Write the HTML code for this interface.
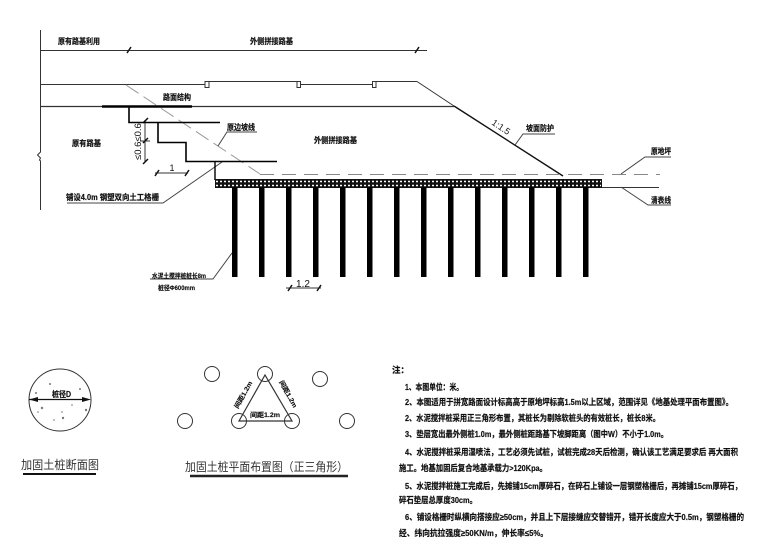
<!DOCTYPE html>
<html><head><meta charset="utf-8"><style>
html,body{margin:0;padding:0;background:#fff;width:760px;height:550px;overflow:hidden}
svg{display:block;filter:blur(.3px)}
text{font-family:"Liberation Sans","Noto Sans CJK SC",sans-serif;fill:#111}
.b{font-weight:700;font-size:8px;stroke:#111;stroke-width:.2px}
.s{font-weight:700;font-size:6.5px;stroke:#111;stroke-width:.15px}
.n{font-weight:700;font-size:8.5px;fill:#111;stroke:#111;stroke-width:.2px}
.t{font-size:12px;fill:#333}
</style></head><body>
<svg width="760" height="550" viewBox="0 0 760 550" xmlns="http://www.w3.org/2000/svg">
<g fill="none" stroke="#333" stroke-width="1">
<path d="M40.5 30V152l-3 3 3 3-1 2 1 1V210"/>
<path d="M41 50.5H427"/>
<path d="M41 84.5H205M209 81.5H297M300.5 84.5H372M376 81.5H417"/>
<rect x="205" y="81.5" width="4" height="6"/>
<rect x="297" y="81.5" width="3.5" height="6"/>
<rect x="372.5" y="81.5" width="3.5" height="6"/>
<path d="M41 106.5H454" stroke-width="1.2"/>
<path d="M417 81.5L454 106" stroke="#333"/>
<path d="M454 106L563 176" stroke="#111" stroke-width="1.4"/>
<path d="M126 85L260 174" stroke="#999" stroke-dasharray="15 6"/>
<path d="M260 174.5H660" stroke="#888" stroke-dasharray="14 8"/>
<path d="M602 187.5H659"/>
<path d="M222 162L163 203H67" stroke="#444"/>
<path d="M218 146L227 132H257" stroke="#444"/>
<path d="M515 145L523 134H555" stroke="#444"/>
<path d="M621 174L645 157H671" stroke="#444"/>
<path d="M621 187L648 205H671" stroke="#444"/>
<path d="M232 253L213 279H150" stroke="#444"/>
<path d="M145 120V162M140 141H150"/>
<path d="M155 173H188"/>
<path d="M286 288H321"/>
</g>
<g stroke="#111" stroke-width="1.5" fill="none">
<path d="M127 53l4-6M415 53l4-6M143 123l5-5M143 143l5-5M143 164l5-5M155 176l4-6M185 176l4-6M288 291l4-6M317 291l4-6"/>
</g>
<g fill="none" stroke="#000">
<path d="M102 106.5H192" stroke-width="2.4"/>
<path d="M129 106V122.5H220" stroke-width="1.6"/>
<path d="M158 122V142.5H186V161.5H277" stroke-width="1.6"/>
<path d="M215 161V180" stroke-width="1.4"/>
</g>
<rect x="215" y="179" width="387" height="9" fill="#111"/>
<path d="M216 181.5H601M216 185.5H601" stroke="#fff" stroke-width="1.6" stroke-dasharray="2 2" fill="none"/>
<g fill="#000">
<rect x="232" y="187" width="5.5" height="90"/><rect x="259" y="187" width="5.5" height="90"/><rect x="286" y="187" width="5.5" height="90"/><rect x="313" y="187" width="5.5" height="90"/><rect x="340" y="187" width="5.5" height="90"/><rect x="367" y="187" width="5.5" height="90"/><rect x="394" y="187" width="5.5" height="90"/><rect x="421" y="187" width="5.5" height="90"/><rect x="448" y="187" width="5.5" height="90"/><rect x="475" y="187" width="5.5" height="90"/><rect x="502" y="187" width="5.5" height="90"/><rect x="529" y="187" width="5.5" height="90"/><rect x="556" y="187" width="5.5" height="90"/><rect x="583" y="187" width="5.5" height="90"/>
</g>

<text class="b" x="58" y="44" textLength="42" lengthAdjust="spacingAndGlyphs">原有路基利用</text>
<text class="b" x="250" y="44" textLength="43" lengthAdjust="spacingAndGlyphs">外侧拼接路基</text>
<text class="b" x="163" y="100" textLength="28" lengthAdjust="spacingAndGlyphs">路面结构</text>
<text class="b" x="72" y="146" textLength="29" lengthAdjust="spacingAndGlyphs">原有路基</text>
<text class="b" x="227" y="130" textLength="28" lengthAdjust="spacingAndGlyphs">原边坡线</text>
<text class="b" x="314" y="143" textLength="43" lengthAdjust="spacingAndGlyphs">外侧拼接路基</text>
<text class="b" x="526" y="131" textLength="28" lengthAdjust="spacingAndGlyphs">坡面防护</text>
<text class="b" x="651" y="154" textLength="20" lengthAdjust="spacingAndGlyphs">原地坪</text>
<text class="b" x="651" y="203" textLength="20" lengthAdjust="spacingAndGlyphs">清表线</text>
<text class="b" x="66" y="200" textLength="93" lengthAdjust="spacingAndGlyphs">铺设4.0m 钢塑双向土工格栅</text>
<text class="s" x="152" y="278" textLength="54" lengthAdjust="spacingAndGlyphs">水泥土搅拌桩桩长8m</text>
<text class="s" x="158" y="290" textLength="37" lengthAdjust="spacingAndGlyphs">桩径Φ600mm</text>
<text x="172" y="171" font-size="9" fill="#222" text-anchor="middle">1</text>
<text x="303" y="287" font-size="10" fill="#222" text-anchor="middle">1.2</text>
<text x="0" y="0" font-size="9.5" fill="#222" transform="translate(141,160) rotate(-90)">≤0.6≤0.6</text>
<text x="0" y="0" font-size="9" fill="#222" transform="translate(491,124) rotate(34)">1:1.5</text>

<circle cx="60" cy="400" r="31" fill="#fff" stroke="#333" stroke-width="1"/>
<g fill="#777">
<circle cx="50" cy="384" r="1"/><circle cx="36" cy="393" r="1"/><circle cx="42" cy="408" r="1.2"/><circle cx="62" cy="412" r=".8"/><circle cx="63" cy="418" r="1.2"/><circle cx="80" cy="389" r="1"/><circle cx="86" cy="410" r="1.2"/><circle cx="54" cy="420" r=".8"/><circle cx="72" cy="405" r=".8"/><circle cx="38" cy="412" r=".8"/>
</g>
<path d="M29 399.5H88" stroke="#111" stroke-width="1.2"/>
<path d="M29 399.5l9-2.5v5zM91 399.5l-9-2.5v5z" fill="#111"/>
<text class="b" x="52" y="397" textLength="19" lengthAdjust="spacingAndGlyphs">桩径D</text>

<g fill="none" stroke="#333" stroke-width="1">
<circle cx="212" cy="374" r="7.5"/><circle cx="265" cy="374" r="7.5"/><circle cx="320" cy="379" r="7.5"/>
<circle cx="185" cy="421" r="7.5"/><circle cx="239" cy="421" r="7.5"/><circle cx="292" cy="421" r="7.5"/><circle cx="347" cy="421" r="7.5"/>
<path d="M265 375L239 421H292Z" stroke-width="1.2"/>
</g>
<text class="s" x="250" y="417" textLength="30" lengthAdjust="spacingAndGlyphs">间距1.2m</text>
<text class="s" transform="translate(238,409) rotate(-61)" textLength="30" lengthAdjust="spacingAndGlyphs">间距1.2m</text>
<text class="s" transform="translate(279,382) rotate(61)" textLength="30" lengthAdjust="spacingAndGlyphs">间距1.2m</text>

<text class="t" x="21" y="469" textLength="78" lengthAdjust="spacingAndGlyphs">加固土桩断面图</text>
<path d="M23 474H96" stroke="#111" stroke-width="2"/>
<text class="t" x="185" y="471" textLength="163" lengthAdjust="spacingAndGlyphs">加固土桩平面布置图（正三角形）</text>
<path d="M190 476H348" stroke="#222" stroke-width="2.4"/>

<text class="n" x="392" y="373">注：</text>
<text class="n" x="405" y="390" textLength="58" lengthAdjust="spacingAndGlyphs">1、本图单位：米。</text>
<text class="n" x="405" y="405" textLength="328" lengthAdjust="spacingAndGlyphs">2、本图适用于拼宽路面设计标高高于原地坪标高1.5m以上区域，范围详见《地基处理平面布置图》。</text>
<text class="n" x="405" y="421" textLength="255" lengthAdjust="spacingAndGlyphs">2、水泥搅拌桩采用正三角形布置，其桩长为剔除软桩头的有效桩长，桩长8米。</text>
<text class="n" x="405" y="437" textLength="263" lengthAdjust="spacingAndGlyphs">3、垫层宽出最外侧桩1.0m，最外侧桩距路基下坡脚距离（图中W）不小于1.0m。</text>
<text class="n" x="405" y="455" textLength="333" lengthAdjust="spacingAndGlyphs">4、水泥搅拌桩采用湿喷法，工艺必须先试桩，试桩完成28天后检测，确认该工艺满足要求后 再大面积</text>
<text class="n" x="399" y="471" textLength="148" lengthAdjust="spacingAndGlyphs">施工。地基加固后复合地基承载力&gt;120Kpa。</text>
<text class="n" x="405" y="489" textLength="337" lengthAdjust="spacingAndGlyphs">5、水泥搅拌桩施工完成后，先摊铺15cm厚碎石，在碎石上铺设一层钢塑格栅后，再摊铺15cm厚碎石，</text>
<text class="n" x="399" y="503" textLength="78" lengthAdjust="spacingAndGlyphs">碎石垫层总厚度30cm。</text>
<text class="n" x="405" y="520" textLength="339" lengthAdjust="spacingAndGlyphs">6、铺设格栅时纵横向搭接应≥50cm，并且上下层接缝应交替错开，错开长度应大于0.5m，钢塑格栅的</text>
<text class="n" x="399" y="536" textLength="149" lengthAdjust="spacingAndGlyphs">经、纬向抗拉强度≥50KN/m，伸长率≤5%。</text>
</svg>
</body></html>
